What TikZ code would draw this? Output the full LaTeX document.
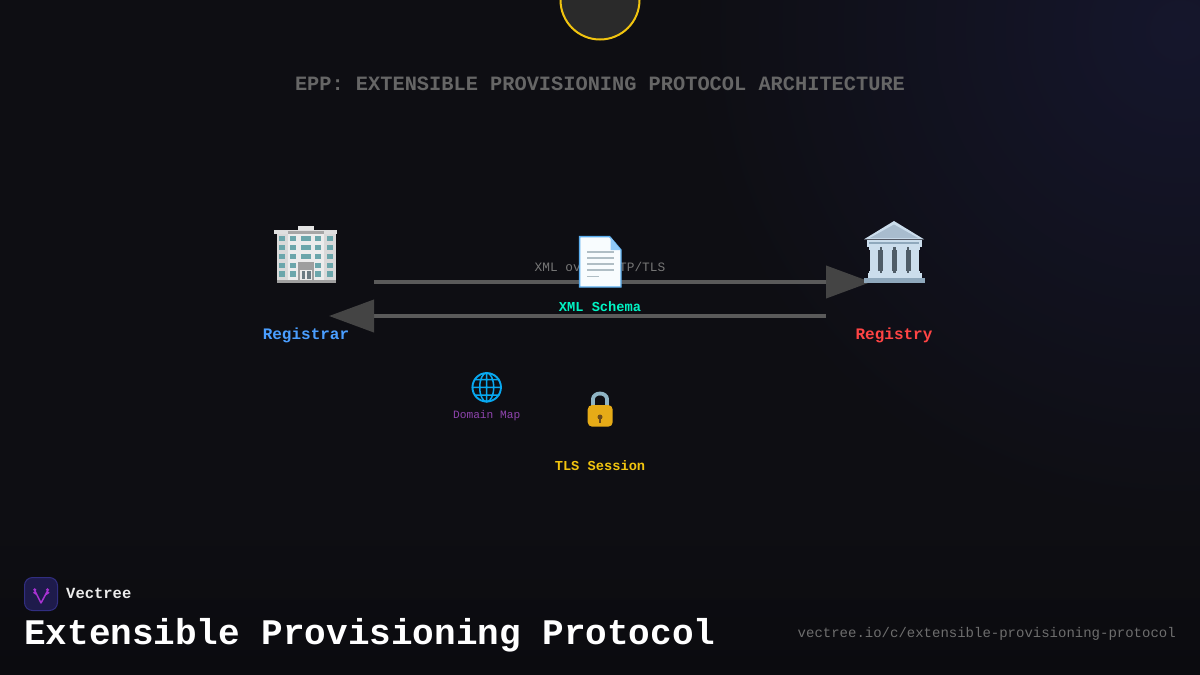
\documentclass[tikz,border=0pt]{standalone}
\usepackage{fontspec}
\setmainfont{Liberation Mono}
\usepackage{xcolor}
\usetikzlibrary{arrows.meta,positioning}
\definecolor{bgdark}{HTML}{0E0E13}
\definecolor{bgglow}{HTML}{15162C}
\definecolor{bgfoot}{HTML}{0B0B0F}
\definecolor{linegray}{HTML}{5A5A5A}
\definecolor{headgray}{HTML}{444444}
\definecolor{wingray}{HTML}{6BA6AB}
\definecolor{pillar}{HTML}{CBDDEC}
\definecolor{pediment}{HTML}{A8BCCE}
\definecolor{steel}{HTML}{8FA8BC}
\definecolor{gold}{HTML}{F1C40F}
\definecolor{badgefill}{HTML}{2A2A2A}
\definecolor{skyblue}{HTML}{08A8F0}
\definecolor{lockbody}{HTML}{E6AB17}
\definecolor{shackle}{HTML}{8FB4C4}
\definecolor{keybrown}{HTML}{6B4A1A}
\definecolor{logofill}{HTML}{1E1B4B}
\definecolor{logoline}{HTML}{312E81}
\definecolor{logomark}{HTML}{A832D2}
\definecolor{docline}{HTML}{B0BEC5}
\definecolor{docedge}{HTML}{5BAEEF}
\definecolor{docfold}{HTML}{90CAF9}
\newcommand{\pxfont}[1]{\fontsize{#1}{#1}\selectfont}

\begin{document}
\begin{tikzpicture}[
  x=1pt, y=-1pt,
  node distance=5pt,
  iconbox/.style  ={inner sep=0pt, minimum width=60pt, minimum height=58pt},
  partylabel/.style={font=\pxfont{16}\bfseries, inner sep=0pt, text height=12pt, text depth=3pt},
  smalllabel/.style={font=\pxfont{13.7}\bfseries, inner sep=0pt, text height=10pt, text depth=3pt},
  arr/.style      ={line width=4pt, draw=linegray,
                    -{Triangle[length=45pt,width=32pt,fill=headgray,color=headgray]}},
]
  \useasboundingbox (0,0) rectangle (1200,675);
  \clip (0,0) rectangle (1200,675);
  \fill[bgdark] (0,0) rectangle (1200,675);
  \shade[inner color=bgglow, outer color=bgdark] (1180,30) circle (490);
  \shade[top color=bgdark, bottom color=bgfoot] (0,520) rectangle (1200,675);

  % top badge
  \node[circle, draw=gold, line width=2pt, fill=badgefill,
        minimum size=79pt, inner sep=0pt] (badge) at (600,0) {};

  \node[font=\pxfont{20.33}\bfseries, text=black!60!white, anchor=base] (title) at (600,90)
    {EPP: EXTENSIBLE PROVISIONING PROTOCOL ARCHITECTURE};

  % the two parties
  \node[iconbox] (registrar) at (306,254.5) {};
  \node[iconbox] (registry)  at (894,254.5) {};
  \node[partylabel, text={rgb,255:red,74;green,158;blue,255}] (registrarlabel) [below=44pt of registrar] {Registrar};
  \node[partylabel, text={rgb,255:red,255;green,68;blue,68}]  (registrylabel)  [below=44pt of registry]  {Registry};

  \coordinate (reqstart) at (374,282);
  \coordinate (reqend)   at (871,282);
  \coordinate (respstart) at (826,316);
  \coordinate (respend)   at (329,316);

  \node[font=\pxfont{12.8}, text={rgb,255:red,119;green,119;blue,119}, anchor=base] (transport) at (600,271) {XML over HTTP/TLS};
  \draw[arr] (reqstart) -- (reqend);
  \draw[arr] (respstart) -- (respend);

  % registrar building
  \fill[gray!30] (276.7,233) rectangle (335.7,283);
  \fill[gray!15] (287.7,233) rectangle (324,280);
  \fill[gray!22] (297.7,226) rectangle (314.3,231);
  \fill[gray!25] (274,230) rectangle (337,234);
  \fill[gray!70] (287.7,231) rectangle (324,234);
  \fill[gray!75] (276.7,280) rectangle (335.7,283);
  \foreach \wx in {282.3,293.3,318.3,330.3}
    \foreach \wy in {238.5,247.5,256.5,265.3,274}
      \fill[wingray] (\wx-2.9,\wy-2.7) rectangle (\wx+2.9,\wy+2.7);
  \foreach \wy in {238.5,247.5,256.5}
    \fill[wingray] (301,\wy-2.7) rectangle (311,\wy+2.7);
  \fill[gray!75] (297.7,262) rectangle (314,280);
  \fill[gray!15] (300,269.5) rectangle (312,280);
  \fill[black!60!cyan!50!gray] (301.5,270.5) rectangle (305.2,279);
  \fill[black!60!cyan!50!gray] (307,270.5) rectangle (310.7,279);

  % registry building
  \fill[pillar] (864,239.3) -- (894,221) -- (924,239.3) -- cycle;
  \fill[pediment] (870,238) -- (894,224.5) -- (918,238) -- cycle;
  \fill[pillar] (866.7,240) rectangle (921.7,246.5);
  \fill[steel] (869,241.5) rectangle (919,243.7);
  \fill[black!45!steel] (870,247) rectangle (918,273);
  \foreach \px in {874.2,887.5,901.5,914.8} {
    \fill[pillar] (\px-4.2,247) rectangle (\px+4.2,273);
    \fill[pillar] (\px-5.5,247) rectangle (\px+5.5,249.5);
    \fill[pillar] (\px-5.5,270.5) rectangle (\px+5.5,273);
  }
  \fill[pillar] (867.5,273) rectangle (921.5,278);
  \fill[steel] (864,278) rectangle (925,283);

  % document
  \node[inner sep=0pt, minimum width=41pt, minimum height=50pt] (doc) at (600.3,261.8) {};
  \filldraw[fill=white!96!docedge, draw=docedge, line width=1.4pt]
    (doc.south west) -- (doc.north west) -- ++(30,0) -- (doc.north east |- 0,250) -- (doc.south east) -- cycle;
  \fill[docfold] (610.5,237) -- (620.8,250) -- (610.5,250) -- cycle;
  \foreach \ly in {252,258,264,270}
    \draw[docline, line width=1.4pt] (587,\ly) -- (613.5,\ly);
  \draw[docline, line width=1.4pt] (587,276.5) -- (599,276.5);
  \node[smalllabel, text={rgb,255:red,0;green,245;blue,196}, anchor=base] (schema) at (600,311) {XML Schema};

  % globe
  \node[circle, draw=skyblue, line width=1.9pt, minimum size=28.5pt, inner sep=0pt] (globe) at (486.7,387.3) {};
  \draw[skyblue, line width=1.5pt]
    (globe.center) ellipse (7 and 14.5)
    (globe.north) -- (globe.south)
    (globe.west) -- (globe.east)
    (474,379.5) -- (499.4,379.5)
    (474,395) -- (499.4,395);
  \node[font=\pxfont{11.2}, text={rgb,255:red,142;green,68;blue,173}, inner sep=0pt, text height=8pt, text depth=2pt] (domain) [below=7.5pt of globe] {Domain Map};

  % lock
  \draw[shackle, line width=3.8pt]
    (593,407) -- (593,399) arc[start angle=180, end angle=0, x radius=7, y radius=-5.5] -- (607,407);
  \fill[lockbody, rounded corners=4.5pt] (587.7,405) rectangle (612.7,426.7);
  \node[circle, fill=keybrown, inner sep=0pt, minimum size=5pt] (keyhole) at (600,417) {};
  \fill[keybrown] (598.8,417) rectangle (601.2,423);
  \node[smalllabel, text=gold, anchor=base] (tls) at (600,470) {TLS Session};

  % footer
  \node[draw=logoline, fill=logofill, rounded corners=8pt, line width=1pt,
        minimum size=33pt, inner sep=0pt] (logo) at (41,594) {};
  \draw[logomark, line width=1.5pt, line cap=round]
    (41,603) -- (35,591) (41,603) -- (47.5,591)
    (36.8,594.5) -- (33.8,592.5) (45.8,594.5) -- (48.8,592.5);
  \fill[logomark] (34.8,589.8) circle (1.7) (47.6,589.8) circle (1.7);
  \node[font=\pxfont{15.5}\bfseries, text={rgb,255:red,235;green,235;blue,235}, anchor=base west, inner sep=0pt] (brand) at (66,598) {Vectree};
  \node[font=\pxfont{36}\bfseries, text=white, anchor=base west, inner sep=0pt] (heading) at (24,644.5) {Extensible Provisioning Protocol};
  \node[font=\pxfont{14}, text={rgb,255:red,110;green,110;blue,110}, anchor=base east, inner sep=0pt] (url) at (1176,637) {vectree.io/c/extensible-provisioning-protocol};
\end{tikzpicture}
\end{document}
